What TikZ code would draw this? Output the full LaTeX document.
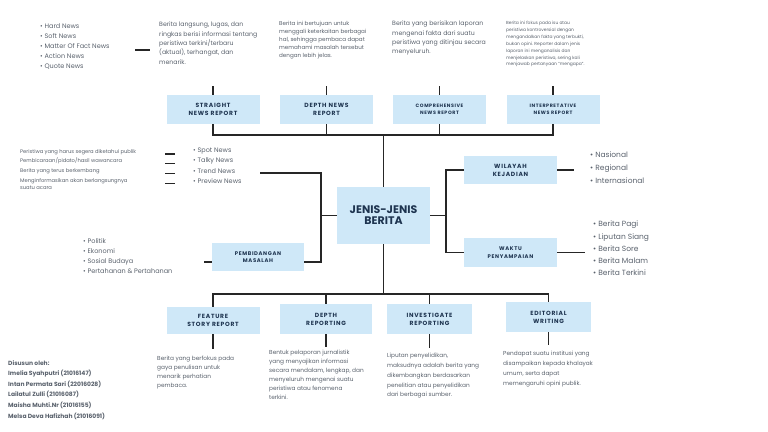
\documentclass[tikz,border=0pt]{standalone}
\usepackage{fontspec}
\setmainfont{Poppins}
\newfontfamily\headfont{Poppins}[LetterSpace=12]
\usetikzlibrary{positioning,calc}
\definecolor{boxblue}{HTML}{CFE8F8}
\definecolor{navy}{HTML}{1E3450}
\definecolor{txtgray}{HTML}{59616C}
\tikzset{
  box/.style={fill=boxblue, text=navy, font=\headfont\bfseries\fontsize{6}{8}\selectfont,
              align=center, minimum width=93pt, minimum height=29pt, inner sep=1pt},
  desc/.style={text=txtgray, font=\fontsize{5.6}{8}\selectfont, align=left, anchor=north west, inner sep=0pt},
  lst/.style={text=txtgray, font=\fontsize{6.5}{10.2}\selectfont, align=left, anchor=north west, inner sep=0pt},
  line/.style={draw=black!85, line width=1.2pt}
}
\begin{document}
\begin{tikzpicture}[x=1pt,y=-1pt]
\useasboundingbox (0,0) rectangle (768,431);
% centre
\node[box, minimum width=93pt, minimum height=57pt, font=\bfseries\fontsize{11}{11}\selectfont] (main) at (383.5,215.5) {JENIS-JENIS\\BERITA};
% top row
\node[box] (straight) at (213,109.5) {STRAIGHT\\NEWS REPORT};
\node[box] (depthnews) at (326.5,109.5) {DEPTH NEWS\\REPORT};
\node[box, font=\headfont\bfseries\fontsize{4.8}{7}\selectfont] (compre) at (439.5,109.5) {COMPREHENSIVE\\NEWS REPORT};
\node[box, font=\headfont\bfseries\fontsize{4.8}{7}\selectfont] (interp) at (553,109.5) {INTERPRETATIVE\\NEWS REPORT};
% bottom row
\node[box, minimum height=27pt] (feature) at (213,320.5) {FEATURE\\STORY REPORT};
\node[box, minimum width=92pt, minimum height=30pt] (depthrep) at (326,319) {DEPTH\\REPORTING};
\node[box, minimum width=85pt, minimum height=30pt] (investig) at (429.5,319) {INVESTIGATE\\REPORTING};
\node[box, minimum width=85pt, minimum height=30pt] (editor) at (548.5,317) {EDITORIAL\\WRITING};
% sides
\node[box, minimum width=92pt, minimum height=28pt, font=\headfont\bfseries\fontsize{5.3}{7.5}\selectfont] (bidang) at (258,257) {PEMBIDANGAN\\MASALAH};
\node[box, minimum height=28pt] (wilayah) at (510.5,170) {WILAYAH\\KEJADIAN};
\node[box, minimum height=29pt, font=\headfont\bfseries\fontsize{5.3}{7.5}\selectfont] (waktu) at (510.5,252.5) {WAKTU\\PENYAMPAIAN};

% descriptions top
\node[lst] (hardlist) at (40,23) {• Hard News\\• Soft News\\• Matter Of Fact News\\• Action News\\• Quote News};
\node[desc, font=\fontsize{6.2}{9.3}\selectfont] (straightdesc) at (159,22) {Berita langsung, lugas, dan\\ringkas berisi informasi tentang\\peristiwa terkini/terbaru\\(aktual), terhangat, dan\\menarik.};
\node[desc] (depthdesc) at (279,21) {Berita ini bertujuan untuk\\menggali keterkaitan berbagai\\hal, sehingga pembaca dapat\\memahami masalah tersebut\\dengan lebih jelas.};
\node[desc, font=\fontsize{6.2}{9.3}\selectfont] (compredesc) at (392,21) {Berita yang berisikan laporan\\mengenai fakta dari suatu\\peristiwa yang ditinjau secara\\menyeluruh.};
\node[desc, font=\fontsize{4.4}{6.9}\selectfont] (interpdesc) at (506,21) {Berita ini fokus pada isu atau\\peristiwa kontroversial dengan\\mengandalkan fakta yang terbukti,\\bukan opini. Reporter dalam jenis\\laporan ini menganalisis dan\\menjelaskan peristiwa, sering kali\\menjawab pertanyaan ``mengapa''.};
% left lists
\node[lst] (spotlist) at (193,148) {• Spot News\\• Talky News\\• Trend News\\• Preview News};
\node[desc, font=\fontsize{5.2}{9.8}\selectfont] (spotdesc) at (20,149) {Peristiwa yang harus segera diketahui publik\\Pembicaraan/pidato/hasil wawancara\\Berita yang terus berkembang\\Menginformasikan akan berlangsungnya\\[-3pt]suatu acara};
\node[lst] (politiklist) at (83,238) {• Politik\\• Ekonomi\\• Sosial Budaya\\• Pertahanan \& Pertahanan};
% right lists
\node[lst, font=\fontsize{7.5}{12.6}\selectfont] (nasional) at (590,152) {• Nasional\\• Regional\\• Internasional};
\node[lst, font=\fontsize{7.5}{12.2}\selectfont] (pagi) at (593,221) {• Berita Pagi\\• Liputan Siang\\• Berita Sore\\• Berita Malam\\• Berita Terkini};
% bottom descriptions
\node[desc, font=\fontsize{5.8}{9}\selectfont] (featuredesc) at (157,356) {Berita yang berfokus pada\\gaya penulisan untuk\\menarik perhatian\\pembaca.};
\node[desc, font=\fontsize{5.8}{9}\selectfont] (depthrepdesc) at (269,350) {Bentuk pelaporan jurnalistik\\yang menyajikan informasi\\secara mendalam, lengkap, dan\\menyeluruh mengenai suatu\\peristiwa atau fenomena\\terkini.};
\node[desc, font=\fontsize{5.8}{9.8}\selectfont] (investdesc) at (387,353) {Liputan penyelidikan,\\maksudnya adalah berita yang\\dikembangkan berdasarkan\\penelitian atau penyelidikan\\dari berbagai sumber.};
\node[desc, font=\fontsize{5.8}{9.8}\selectfont] (editordesc) at (503,351) {Pendapat suatu institusi yang\\disampaikan kepada khalayak\\umum, serta dapat\\memengaruhi opini publik.};
% authors
\node[desc, font=\bfseries\fontsize{6}{10.6}\selectfont] (authors) at (8,360) {Disusun oleh:\\Imelia Syahputri (21016147)\\Intan Permata Sari (22016028)\\Lailatul Zulli (21016087)\\Maisha Muhti.Nr (21016155)\\Melsa Deva Hafizhah (21016091)};

% junctions
\coordinate (topbar) at (383.5,135);
\coordinate (botbar) at (383.5,294);
\coordinate (lbar) at (321,215.5);
\coordinate (rbar) at (446,215.5);
\coordinate (trendend) at (260,173);

% connectors
\draw[line] (main.north) -- (topbar);
\draw[line] (main.south) -- (botbar);
\draw[line] (straight.south) |- (topbar) -| (interp.south);
\draw[line] (depthnews.south) -- (depthnews.south |- topbar);
\draw[line] (compre.south) -- (compre.south |- topbar);
\draw[line] (straight.north) -- ++(0,-9);
\draw[line] (depthnews.north) -- ++(0,-9);
\draw[line] (compre.north) -- ++(0,-9);
\draw[line] (interp.north) -- ++(0,-9);
\draw[line] (feature.north) |- (botbar) -| (editor.north);
\draw[line] (depthrep.north) -- (depthrep.north |- botbar);
\draw[line] (investig.north) -- (investig.north |- botbar);
\draw[line] (feature.south) -- ++(0,15);
\draw[line] (depthrep.south) -- ++(0,13);
\draw[line] (investig.south) -- ++(0,14);
\draw[line] (editor.south) -- ++(0,13);
\draw[line] (main.west) -- (lbar);
\draw[line] (trendend) -| (lbar) |- (bidang.east |- 0,262);
\draw[line] (main.east) -- (rbar);
\draw[line] (wilayah.west) -| (rbar) |- (waktu.west);
\draw[line] (wilayah.east) -- ++(17,0);
\draw[line] (waktu.east) -- ++(28,0);
\draw[line] (bidang.west |- 0,262) -- ++(-8,0);
\draw[line] (135,50) -- (150,50);
\foreach \y in {154,163.5,173.5} \draw[line] (165,\y) -- (175,\y);
\draw[line, line width=0.6pt] (165,183.5) -- (175,183.5);
\end{tikzpicture}
\end{document}
